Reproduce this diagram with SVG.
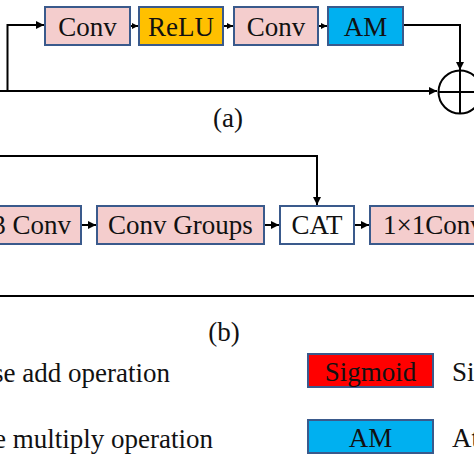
<svg xmlns="http://www.w3.org/2000/svg" width="474" height="474" viewBox="0 0 474 474">
<style>
  .box{stroke:#3A5A8C;stroke-width:2}
  .pink{fill:#F4CDCD}
  .orange{fill:#FFC000}
  .blue{fill:#00B0F0}
  .red{fill:#FF0000}
  .white{fill:#FFFFFF}
  .t{font-family:"Liberation Serif","Times New Roman",serif;font-size:27px;fill:#111}
  .c{text-anchor:middle}
  .ln{stroke:#000;stroke-width:2;fill:none}
</style>
<defs>
  <marker id="ah" viewBox="0 0 10 10" refX="10" refY="5" markerWidth="4" markerHeight="4" orient="auto" markerUnits="strokeWidth">
    <path d="M0,0 L10,5 L0,10 z" fill="#000"/>
  </marker>
  <marker id="ahs" viewBox="0 0 10 10" refX="10" refY="5" markerWidth="3" markerHeight="3" orient="auto" markerUnits="strokeWidth">
    <path d="M0,0 L10,5 L0,10 z" fill="#000"/>
  </marker>
</defs>
<rect width="474" height="474" fill="#fff"/>

<g id="connectors">
  <!-- (a) -->
  <path class="ln" d="M0,91 L437,91" marker-end="url(#ah)"/>
  <path class="ln" d="M7.5,91 L7.5,25 L44,25" marker-end="url(#ah)"/>
  <path class="ln" d="M131,26 L138,26" stroke-width="1.5" marker-end="url(#ahs)"/>
  <path class="ln" d="M224,26 L233,26" stroke-width="1.5" marker-end="url(#ahs)"/>
  <path class="ln" d="M319,26 L327,26" stroke-width="1.5" marker-end="url(#ahs)"/>
  <path class="ln" d="M404,25 L460,25 L460,70" marker-end="url(#ah)"/>
  <!-- (b) -->
  <path class="ln" d="M0,156 L317,156 L317,205" marker-end="url(#ah)"/>
  <path class="ln" d="M82,225 L96,225" marker-end="url(#ah)"/>
  <path class="ln" d="M265,225 L279,225" marker-end="url(#ah)"/>
  <path class="ln" d="M355,225 L369,225" marker-end="url(#ah)"/>
  <path class="ln" d="M0,296 L474,296"/>
</g>

<g id="add">
  <circle cx="460" cy="92" r="21.5" class="ln"/>
  <path class="ln" d="M438.5,92 L481.5,92 M460,70.5 L460,113.5"/>
</g>

<g id="a-conv1">
  <rect class="box pink" x="45" y="7" width="85" height="38"/>
  <text class="t c" x="87.5" y="36">Conv</text>
</g>
<g id="a-relu">
  <rect class="box orange" x="139" y="7" width="84" height="38"/>
  <text class="t c" x="181" y="36">ReLU</text>
</g>
<g id="a-conv2">
  <rect class="box pink" x="234" y="7" width="84" height="38"/>
  <text class="t c" x="276" y="36">Conv</text>
</g>
<g id="a-am">
  <rect class="box blue" x="328" y="7" width="75" height="38"/>
  <text class="t c" x="365.5" y="36">AM</text>
</g>
<g id="label-a">
  <text class="t c" x="228" y="127" font-size="26">(a)</text>
</g>

<g id="b-conv3">
  <rect class="box pink" x="-30" y="206" width="111" height="38"/>
  <text class="t" x="71" y="234" text-anchor="end">3×3 Conv</text>
</g>
<g id="b-groups">
  <rect class="box pink" x="97" y="206" width="167" height="38"/>
  <text class="t c" x="180.5" y="234">Conv Groups</text>
</g>
<g id="b-cat">
  <rect class="box white" x="280" y="206" width="74" height="38"/>
  <text class="t c" x="317" y="234">CAT</text>
</g>
<g id="b-conv1">
  <rect class="box pink" x="370" y="206" width="120" height="38"/>
  <text class="t" x="383" y="234">1×1Conv</text>
</g>
<g id="label-b">
  <text class="t c" x="224" y="341" font-size="26">(b)</text>
</g>

<g id="legend">
  <text class="t" x="170" y="382" text-anchor="end" font-size="27.5">Element-wise add operation</text>
  <text class="t" x="213" y="448" text-anchor="end" font-size="27.5">Element-wise multiply operation</text>
  <rect class="box red" x="308" y="354" width="125" height="33"/>
  <text class="t c" x="370.5" y="381">Sigmoid</text>
  <text class="t" x="452" y="381" font-size="27.5">Sigmoid function</text>
  <rect class="box blue" x="308" y="420" width="125" height="33"/>
  <text class="t c" x="370.5" y="447">AM</text>
  <text class="t" x="452" y="447" font-size="27.5">Attention module</text>
</g>
</svg>
